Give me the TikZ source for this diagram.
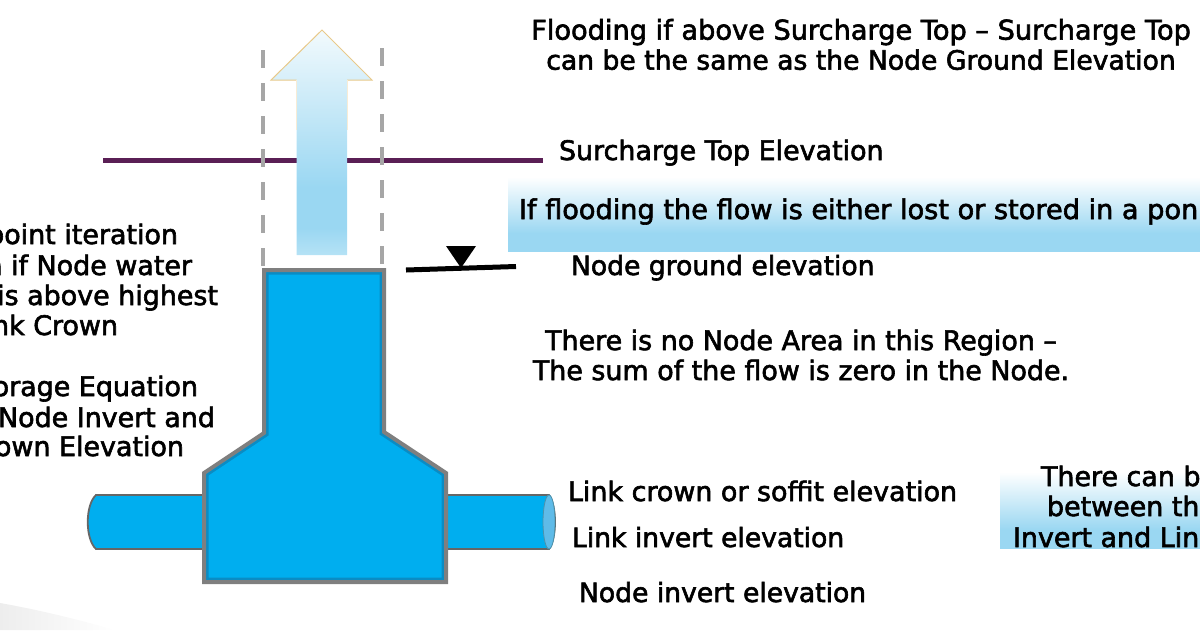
\documentclass[tikz,border=0pt]{standalone}
\usepackage{fontspec}
\setmainfont[FakeBold=2.2]{DejaVu Sans}
\definecolor{arrowlow}{HTML}{B5E2F5}
\definecolor{bandblue}{HTML}{9AD7F2}
\definecolor{bandpale}{HTML}{CDEBF8}
\definecolor{bandtop}{HTML}{F2FAFD}
\definecolor{water}{HTML}{00AEEF}
\definecolor{waterdark}{HTML}{0A8CC4}
\definecolor{wall}{HTML}{7F7F7F}
\definecolor{dashgrey}{HTML}{A6A6A6}
\definecolor{surcharge}{HTML}{5A1F55}
\definecolor{headedge}{HTML}{E8C98A}
\definecolor{pipeend}{HTML}{5FBBE8}
\pgfdeclareverticalshading{flowshade}{100bp}{
  color(0bp)=(arrowlow); color(25bp)=(arrowlow); color(31bp)=(bandblue); color(40bp)=(bandblue); color(60bp)=(bandpale); color(75bp)=(bandtop); color(100bp)=(bandtop)}
\pgfdeclareverticalshading{bandshade}{100bp}{
  color(0bp)=(bandblue); color(25bp)=(bandblue); color(37bp)=(bandblue); color(56bp)=(bandpale); color(75bp)=(white); color(100bp)=(white)}
\newcommand{\bodypath}{(264,270) -- (384,270) -- (384,432) -- (446,473) -- (446,582) -- (204,582) -- (204,473) -- (264,433) -- cycle}
\tikzset{
  x=1pt,y=-1pt,
  label text/.style={font=\fontsize{26.9}{30}\selectfont,text=black,inner sep=0pt,outer sep=0pt},
  tight text/.style={font=\fontsize{26.6}{30}\selectfont},
  left line/.style={label text,anchor=base east},
  side label/.style={label text,anchor=base west},
  block/.style={label text,align=center,anchor=center},
  guide/.style={dashgrey,line width=4.5pt,dash pattern=on 18pt off 15pt},
  pipe/.style={fill=water,draw=wall!80!black,line width=1.8pt}
}
\begin{document}
\begin{tikzpicture}
\useasboundingbox (0,0) rectangle (1200,630);
\clip (0,0) rectangle (1200,630);
% faint corner swoosh
\shade[left color=black!7,right color=white] (0,630) -- (0,603) .. controls (40,610) and (80,620) .. (115,630) -- cycle;
% bands
\path[shading=bandshade] (508,177) rectangle (1200,251);
\path[shading=bandshade] (1000,472) rectangle (1200,548);
% surcharge line
\coordinate (surL) at (103,160);
\coordinate (surR) at (543,160);
\draw[surcharge,line width=5pt] (surL) -- (surR);
% dashed guides
\coordinate (gLt) at (263,50);
\coordinate (gLb) at (263,268);
\coordinate (gRt) at (382,48);
\coordinate (gRb) at (382,268);
\draw[guide] (gLt) -- (gLb);
\draw[guide] (gRt) -- (gRb);
% arrow
\path[shading=flowshade] (322,30) -- (372,80) -- (347,80) -- (347,255) -- (296.5,255) -- (296.5,80) -- (271,80) -- cycle;
\draw[headedge,line width=1pt,line join=miter] (296.5,80) -- (271,80) -- (322,30) -- (372,80) -- (347,80);
\draw[headedge!35,line width=.8pt] (296.5,80) -- (296.5,130) (347,80) -- (347,130);
% pipes
\draw[pipe] (205,495) -- (96,495) .. controls (85,505) and (85,539) .. (96,549) -- (205,549) -- cycle;
\draw[pipe] (445,495) -- (549,495) .. controls (557,505) and (557,539) .. (549,549) -- (445,549) -- cycle;
\draw[fill=pipeend,draw=wall!60!water,line width=0.8pt] (549,522) ellipse (6 and 27);
% node body
\fill[water] \bodypath;
\begin{scope}
  \clip \bodypath;
  \draw[waterdark,line width=9pt,line join=miter] \bodypath;
\end{scope}
\draw[draw=wall,line width=4pt,line join=miter] \bodypath;
% ground marker
\coordinate (gndL) at (406,270);
\coordinate (gndR) at (516,266.5);
\draw[black,line width=5pt] (gndL) -- (gndR);
\fill[black] (446,246) -- (476,246) -- (461,268) -- cycle;
% texts
\node[block] (flood) at (861,44.5) {{\fontsize{27.2}{30}\selectfont Flooding if above Surcharge Top – Surcharge Top}\\{\fontsize{26.6}{30}\selectfont can be the same as the Node Ground Elevation}};
\node[side label] (surtop) at (559,160) {Surcharge Top Elevation};
\node[side label,font=\fontsize{27.15}{30}\selectfont] (pond) at (519,219) {If flooding the flow is either lost or stored in a pon};
\node[side label,tight text] (ground) at (571,275) {Node ground elevation};
\node[block] (noarea) at (801,355) {There is no Node Area in this Region –\\The sum of the flow is zero in the Node.};
\node[side label] (crown) at (568,501) {Link crown or soffit elevation};
\node[side label,tight text] (linkinv) at (572,547) {Link invert elevation};
\node[side label,tight text] (nodeinv) at (579,602) {Node invert elevation};
\node[side label] (can1) at (1041,486) {There can be};
\node[side label] (can2) at (1047,516) {between the};
\node[side label] (can3) at (1013,547) {Invert and Lin};
\node[left line] (l1) at (178,244) {point iteration};
\node[left line] (l2) at (192,275) {n if Node water};
\node[left line] (l3) at (218,305) {is above highest};
\node[left line] (l4) at (118,335) {nk Crown};
\node[left line] (l5) at (198,396) {orage Equation};
\node[left line] (l6) at (215,427) {Node Invert and};
\node[left line] (l7) at (184,456) {own Elevation};
\end{tikzpicture}
\end{document}
